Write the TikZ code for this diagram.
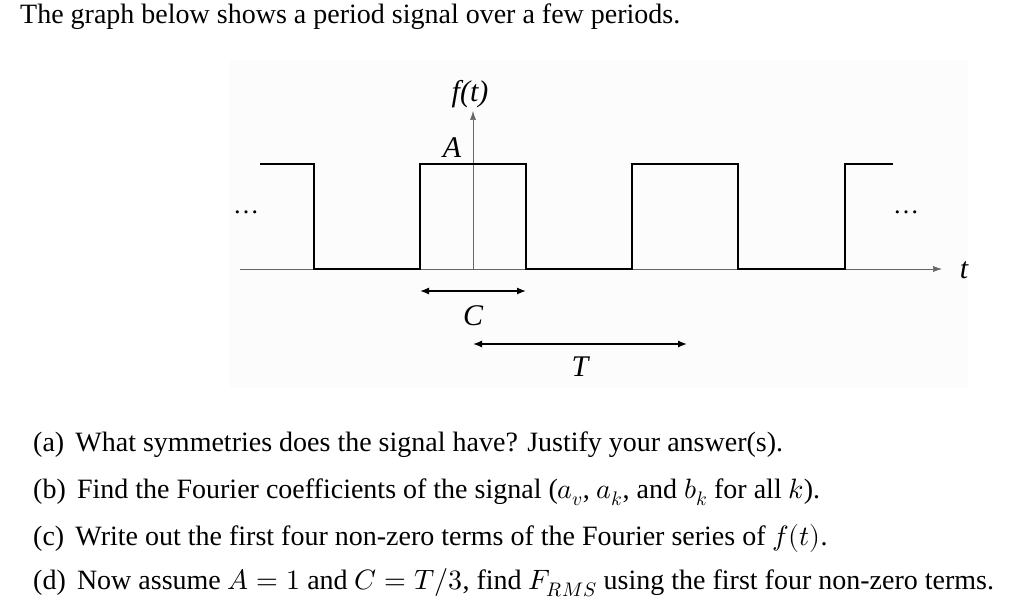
\documentclass[tikz,border=0pt]{standalone}
\usepackage{fontspec}
\setmainfont{Liberation Serif}
\usepackage{unicode-math}
\setmathfont{Latin Modern Math}
\usetikzlibrary{arrows.meta}
\begin{document}
\begin{tikzpicture}[x=1pt,y=-1pt,
  sig/.style={line width=1.6pt},
  ax/.style={line width=0.6pt,gray!80!black},
  dim/.style={line width=1.3pt,{Latex[length=9pt,width=7pt]}-{Latex[length=9pt,width=7pt]}},
  lbl/.style={font=\fontsize{30}{34}\selectfont\itshape,inner sep=0pt},
  txt/.style={font=\fontsize{28}{32}\selectfont,anchor=west,inner sep=0pt}]
\useasboundingbox (0,0) rectangle (1024,612);
\fill[gray!2] (230,60) rectangle (968,388);
\node[txt] (title) at (20,17) {The graph below shows a period signal over a few periods.};
\draw[ax,-{Latex[length=9pt,width=6pt]}] (240,269) -- (942,269) coordinate (tend);
\draw[ax,-{Latex[length=9pt,width=6pt]}] (473,269) -- (473,111) coordinate (fend);
\draw[sig] (260,164) -- (314,164) -- (314,269) -- (420,269) -- (420,164) -- (526,164) -- (526,269) -- (632,269) -- (632,164) -- (738,164) -- (738,269) -- (845,269) -- (845,164) -- (893,164);
\node[lbl] (t) at (964,270) {t};
\node[lbl] (f) at (470,94) {f(t)};
\node[lbl] (A) at (452,148) {A};
\node[font=\fontsize{26}{28}\selectfont] (dl) at (246,212) {\dots};
\node[font=\fontsize{26}{28}\selectfont] (dr) at (906,212) {\dots};
\coordinate (c1) at (420,291); \coordinate (c2) at (526,291);
\draw[dim] (c1) -- (c2);
\node[lbl] (C) at (473,316) {C};
\coordinate (t1) at (473,344); \coordinate (t2) at (687,344);
\draw[dim] (t1) -- (t2);
\node[lbl] (T) at (580,367) {T};
\node[txt] (a) at (33,445) {(a)\hspace{0.4em}What symmetries does the signal have? Justify your answer(s).};
\node[txt] (b) at (33,492) {(b)\hspace{0.4em}Find the Fourier coefficients of the signal ($a_v$, $a_k$, and $b_k$ for all $k$).};
\node[txt] (c) at (33,538) {(c)\hspace{0.4em}Write out the first four non-zero terms of the Fourier series of $f(t)$.};
\node[txt] (d) at (33,583) {(d)\hspace{0.4em}Now assume $A=1$ and $C=T/3$, find $F_{RMS}$ using the first four non-zero terms.};
\end{tikzpicture}
\end{document}
